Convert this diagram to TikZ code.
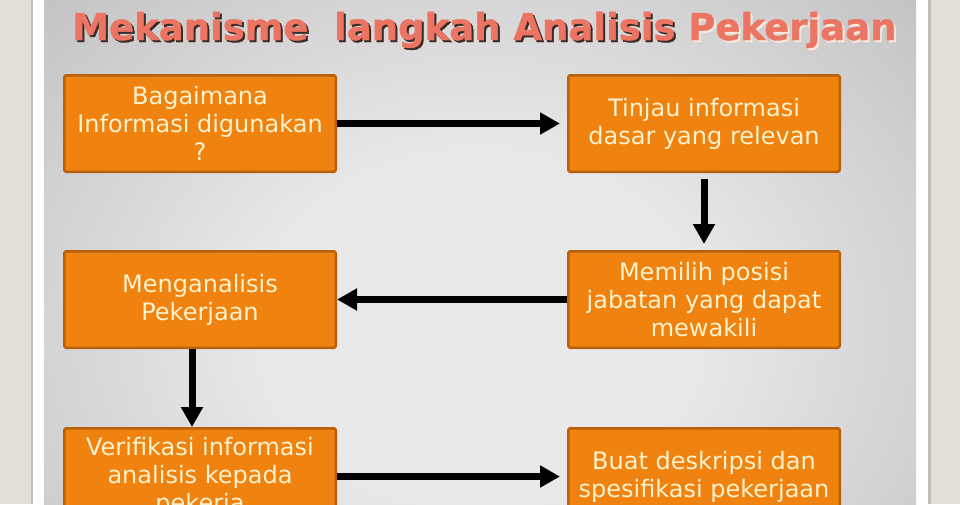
\documentclass[tikz,border=0pt]{standalone}
\usepackage{fontspec}
\setmainfont{DejaVu Sans}
\newfontfamily\judulfont{DejaVu Sans Bold}[FakeBold=1]
\usetikzlibrary{arrows.meta}
\definecolor{latar}{HTML}{E4DFD6}
\definecolor{tepi}{HTML}{C4BFB6}
\definecolor{slidein}{HTML}{E9E9E9}
\definecolor{slideout}{HTML}{A5A5A5}
\definecolor{oranye}{HTML}{F08210}
\definecolor{oranyetua}{HTML}{B9600E}
\definecolor{krem}{HTML}{FFF2CC}
\definecolor{salem}{HTML}{EC7462}
\definecolor{bayang}{HTML}{3C2C28}
\definecolor{bayangterang}{HTML}{FCE8DC}
\pgfdeclareradialshading{slidebg}{\pgfpoint{0bp}{0bp}}{color(0bp)=(slidein); color(12bp)=(slidein); color(53bp)=(slideout); color(100bp)=(slideout)}
\begin{document}
\begin{tikzpicture}[x=1pt,y=-1pt,line join=round,
	kotak/.style={draw=oranyetua,line width=2.5pt,fill=oranye,rounded corners=2pt,minimum width=271.5pt,minimum height=96.5pt,inner sep=0pt,align=center,text=krem,font=\fontsize{24}{28}\selectfont},
	panah/.style={line width=7pt,-{Triangle[width=21pt,length=20pt]}}]
\useasboundingbox (0,0) rectangle (960,504);
\clip (0,0) rectangle (960,504);
\fill[latar] (0,0) rectangle (960,504);
\fill[tepi] (31,0) rectangle (34,504);
\fill[white] (33,0) rectangle (44,504);
\fill[tepi] (927,0) rectangle (931,504);
\fill[white] (916,0) rectangle (928,504);
\shade[shading=slidebg] (44,-20) rectangle (916,680);
\node[anchor=base west,inner sep=0pt,text=salem,font=\fontsize{37}{40}\judulfont] (judul) at (72,40) {\rlap{\hspace{2pt}\raisebox{-2pt}{\color{bayang}Mekanisme\ \ langkah Analisis \color{bayangterang}Pekerjaan}}Mekanisme\ \ langkah Analisis Pekerjaan};
\node[kotak] (guna) at (200,123.5) {Bagaimana\\Informasi digunakan\\?};
\node[kotak] (tinjau) at (704,123.5) {Tinjau informasi\\dasar yang relevan};
\node[kotak] (analisis) at (200,299.5) {Menganalisis\\Pekerjaan};
\node[kotak] (posisi) at (704,299.5) {Memilih posisi\\jabatan yang dapat\\mewakili};
\node[kotak] (verifikasi) at (200,476.5) {Verifikasi informasi\\analisis kepada\\pekerja};
\node[kotak] (deskripsi) at (704,476.5) {Buat deskripsi dan\\spesifikasi pekerjaan};
\draw[panah,shorten >=7pt] (guna.east) -- (tinjau.west);
\draw[panah,shorten <=6pt,shorten >=6pt] (tinjau.south) -- (posisi.north);
\draw[panah] (posisi.west) -- (analisis.east);
\draw[panah] ([xshift=-8pt]analisis.south) -- ([xshift=-8pt]verifikasi.north);
\draw[panah,shorten >=7pt] (verifikasi.east) -- (deskripsi.west);
\end{tikzpicture}
\end{document}
